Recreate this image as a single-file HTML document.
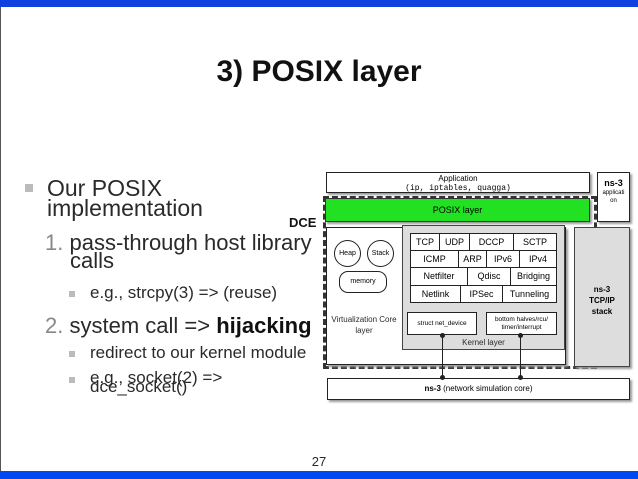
<!DOCTYPE html>
<html><head><meta charset="utf-8"><style>
body{margin:0;width:638px;height:479px;position:relative;background:#fff;font-family:"Liberation Sans",sans-serif;overflow:hidden}
div{position:absolute;box-sizing:border-box}
.t{white-space:nowrap;color:#2a2a2a}
.b{border:1px solid #222;background:#fff;box-shadow:2px 2px 2px #999}
.c{border:1px solid #222;text-align:center;font-size:9px;line-height:17px}
.sq{width:8px;height:8px;background:#bbb}
</style></head><body>
<div style="left:0;top:0;width:638px;height:7px;background:#1040e0"></div>
<div style="left:0;top:471px;width:638px;height:8px;background:#0048f0"></div>
<div style="left:0;top:7px;width:1px;height:464px;background:#555"></div>
<div class="t" style="left:0;width:638px;top:55px;text-align:center;font-weight:bold;font-size:30px;color:#111">3) POSIX layer</div>

<div class="sq" style="left:25px;top:184px"></div>
<div class="t" style="left:47px;top:178px;font-size:23px;line-height:20px">Our POSIX<br>implementation</div>
<div class="t" style="left:45px;top:234px;font-size:22px;line-height:18px"><span style="color:#888">1.</span> pass-through host library<br><span style="padding-left:25px">calls</span></div>
<div class="sq" style="left:69px;top:291px;width:6px;height:6px"></div>
<div class="t" style="left:90px;top:283px;font-size:17px">e.g., strcpy(3) =&gt; (reuse)</div>
<div class="t" style="left:45px;top:313px;font-size:22px"><span style="color:#888">2.</span> system call =&gt; <b style="color:#111">hijacking</b></div>
<div class="sq" style="left:69px;top:351px;width:6px;height:6px"></div>
<div class="t" style="left:90px;top:343px;font-size:17px">redirect to our kernel module</div>
<div class="sq" style="left:69px;top:377px;width:6px;height:6px"></div>
<div class="t" style="left:90px;top:373px;font-size:17px;line-height:9px">e.g., socket(2) =&gt;<br>dce_socket()</div>
<div class="t" style="left:289px;top:215px;font-size:13px;font-weight:bold;color:#111">DCE</div>

<div class="b" style="left:326px;top:172px;width:264px;height:21px;text-align:center;font-size:8px;line-height:9px;padding-top:1px">Application<br><span style="font-family:'Liberation Mono',monospace">(ip, iptables, quagga)</span></div>
<div class="b" style="left:597px;top:172px;width:33px;height:50px;text-align:center;font-size:6px;line-height:8px;padding-top:6px"><b style="font-size:9px">ns-3</b><br>applicati<br>on</div>
<div style="left:323px;top:196px;width:274px;height:173px;border:3px dashed #333"></div>
<div style="left:325px;top:198px;width:265px;height:24px;background:#22e022;border:1px solid #333;text-align:center;font-size:9px;line-height:22px;box-shadow:2px 2px 2px #999">POSIX layer</div>
<div class="b" style="left:326px;top:227px;width:240px;height:138px"></div>
<div class="t" style="left:326px;top:314px;width:76px;text-align:center;font-size:8px;line-height:11px">Virtualization Core<br>layer</div>
<div style="left:334px;top:240px;width:27px;height:27px;border:1px solid #222;border-radius:50%;font-size:7px;text-align:center;line-height:25px">Heap</div>
<div style="left:367px;top:240px;width:27px;height:27px;border:1px solid #222;border-radius:50%;font-size:7px;text-align:center;line-height:25px">Stack</div>
<div style="left:339px;top:271px;width:48px;height:22px;border:1px solid #222;border-radius:9px;font-size:7px;text-align:center;line-height:20px">memory</div>
<div style="left:402px;top:225px;width:163px;height:125px;background:#ddd;border:1px solid #444"></div>
<div class="t" style="left:402px;top:338px;width:163px;text-align:center;font-size:8px">Kernel layer</div>
<div style="left:410px;top:233px;width:147px;height:70px;background:#fff;border:1px solid #222"></div>
<div class="c" style="left:410px;top:233px;width:30px;height:18px">TCP</div>
<div class="c" style="left:439px;top:233px;width:31px;height:18px">UDP</div>
<div class="c" style="left:469px;top:233px;width:45px;height:18px">DCCP</div>
<div class="c" style="left:513px;top:233px;width:44px;height:18px">SCTP</div>
<div class="c" style="left:410px;top:250px;width:49px;height:18px">ICMP</div>
<div class="c" style="left:458px;top:250px;width:29px;height:18px">ARP</div>
<div class="c" style="left:486px;top:250px;width:34px;height:18px">IPv6</div>
<div class="c" style="left:519px;top:250px;width:38px;height:18px">IPv4</div>
<div class="c" style="left:410px;top:267px;width:58px;height:19px">Netfilter</div>
<div class="c" style="left:467px;top:267px;width:44px;height:19px">Qdisc</div>
<div class="c" style="left:510px;top:267px;width:47px;height:19px">Bridging</div>
<div class="c" style="left:410px;top:285px;width:51px;height:18px">Netlink</div>
<div class="c" style="left:460px;top:285px;width:43px;height:18px">IPSec</div>
<div class="c" style="left:502px;top:285px;width:55px;height:18px">Tunneling</div>
<div style="left:407px;top:312px;width:70px;height:23px;background:#fff;border:1px solid #222;font-size:6.5px;text-align:center;line-height:21px">struct net_device</div>
<div style="left:486px;top:312px;width:71px;height:23px;background:#fff;border:1px solid #222;font-size:6.5px;text-align:center;line-height:8px;padding-top:3px">bottom halves/rcu/<br>timer/interrupt</div>
<div style="left:574px;top:227px;width:56px;height:140px;background:#ddd;border:1px solid #444;text-align:center;font-size:8px;font-weight:bold;line-height:11px;padding-top:56px;box-shadow:2px 2px 2px #999">ns-3<br>TCP/IP<br>stack</div>
<div class="b" style="left:327px;top:378px;width:303px;height:22px;text-align:center;font-size:8px;line-height:20px"><b>ns-3</b> (network simulation core)</div>
<div style="left:442px;top:335px;width:1px;height:43px;background:#222"></div>
<div style="left:520px;top:335px;width:1px;height:43px;background:#222"></div>
<div style="left:440px;top:333px;width:5px;height:5px;border-radius:50%;background:#222"></div>
<div style="left:518px;top:333px;width:5px;height:5px;border-radius:50%;background:#222"></div>
<div style="left:440px;top:375px;width:5px;height:5px;border-radius:50%;background:#222"></div>
<div style="left:518px;top:375px;width:5px;height:5px;border-radius:50%;background:#222"></div>

<div class="t" style="left:0;width:638px;top:454px;text-align:center;font-size:13px">27</div>
</body></html>
